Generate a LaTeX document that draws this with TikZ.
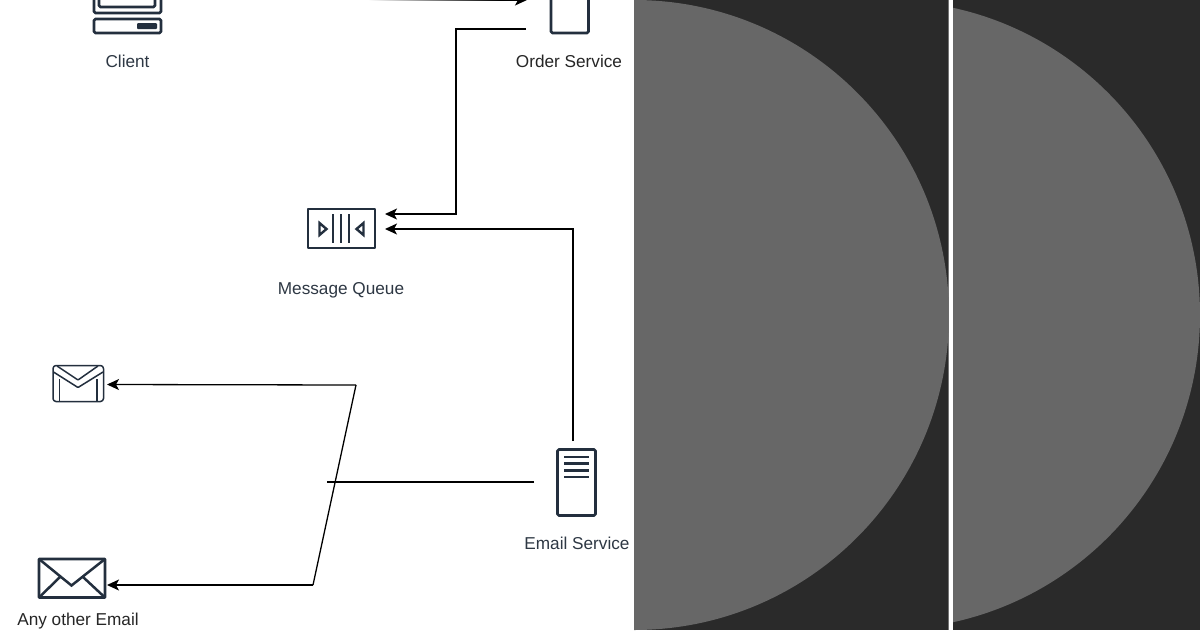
\documentclass[tikz,border=0pt]{standalone}
\usepackage{fontspec}
\setmainfont{Liberation Sans}
\usetikzlibrary{arrows.meta}
\definecolor{icon}{HTML}{232F3E}
\definecolor{paneldark}{HTML}{2A2A2A}
\definecolor{panelgrey}{HTML}{676767}
\definecolor{labelc}{HTML}{2E3844}
\tikzset{
  iconline/.style={draw=icon,line width=2.8pt,rounded corners=1.5pt,line join=round},
  thinicon/.style={draw=icon,line width=1.5pt,rounded corners=0.5pt,line join=round},
  conn/.style={draw=black,line width=1.3pt},
  arrowconn/.style={conn,-{Stealth[length=12pt,width=11pt,inset=3pt]}},
  lab/.style={text=labelc,font=\fontsize{17.2}{20}\selectfont,inner sep=0pt,anchor=center},
  labdark/.style={lab,text=black!85}
}
\begin{document}
\begin{tikzpicture}[x=1pt,y=-1pt]
\useasboundingbox (0,0) rectangle (1200,630);
\clip (0,0) rectangle (1200,630);
\fill[white] (0,0) rectangle (1200,630);
% right panels
\begin{scope}
\clip (634,0) rectangle (948.5,630);
\fill[paneldark] (634,0) rectangle (948.5,630);
\fill[panelgrey] (634,315) circle[radius=315];
\end{scope}
\begin{scope}
\clip (953,0) rectangle (1200,630);
\fill[paneldark] (953,0) rectangle (1200,630);
\fill[panelgrey] (885.5,315) circle[radius=314.5];
\end{scope}
% client icon
\draw[iconline] (94,-20) rectangle (161,13);
\draw[iconline] (99,-20) rectangle (155,7);
\draw[iconline] (94,19) rectangle (161,33);
\fill[icon,rounded corners=1pt] (137,23) rectangle (157,29);
% order icon
\draw[iconline] (551,-30) rectangle (588.5,33);
% queue icon
\draw[iconline,rounded corners=0pt] (308,209) rectangle (375,248);
\foreach \px in {333,341,349}{\draw[icon,line width=2.5pt] (\px,214) -- (\px,243);}
\draw[icon,line width=2.4pt,line join=miter] (319.5,223) -- (319.5,235) -- (326.5,229) -- cycle;
\draw[icon,line width=2.4pt,line join=miter] (363.5,223) -- (363.5,235) -- (356.5,229) -- cycle;
% gmail icon
\draw[thinicon,rounded corners=3pt] (53,365.5) rectangle (103.5,401.5);
\draw[thinicon] (57,366) -- (78,380) -- (98,366);
\draw[thinicon] (53.5,372) -- (78,387.5) -- (103,372);
\draw[thinicon] (59.5,379) -- (59.5,401);
\draw[thinicon] (97,379) -- (97,401);
% envelope icon
\draw[iconline,rounded corners=0.5pt] (39,559) rectangle (105,597.5);
\draw[icon,line width=2.5pt] (39,559) -- (71.5,585.5) -- (105,559);
\draw[icon,line width=2.5pt] (39,597.5) -- (60,577);
\draw[icon,line width=2.5pt] (105,597.5) -- (83,577);
% server icon
\draw[iconline] (557.5,449.5) rectangle (595.5,515.5);
\foreach \py in {457,463.5,470.5,477}{\draw[icon,line width=2.6pt] (564,\py) -- (589,\py);}
% labels
\node[lab] (client) at (127.5,61) {Client};
\node[labdark] (order) at (569,61) {Order Service};
\node[lab] (queue) at (341,290.5) {Message Queue};
\node[lab] (email) at (577,543) {Email Service};
\node[labdark] (other) at (78,621.5) {Any other Email};
% connector anchors
\coordinate (clientOut) at (500,0);
\coordinate (orderIn) at (527,0);
\coordinate (orderOut) at (526,29);
\coordinate (orderBend) at (456,29);
\coordinate (queueInA) at (385,214);
\coordinate (queueInB) at (385,229);
\coordinate (emailUp) at (573,441);
\coordinate (emailLeft) at (534,482);
\coordinate (split) at (327,482);
\coordinate (gmailIn) at (107,384.5);
\coordinate (otherIn) at (107,585);
\coordinate (topBend) at (356,385);
\coordinate (lowBend) at (313,585);
% connectors
\shade[left color=white,right color=black] (368,-0.2) rectangle (500,0.65);
\draw[arrowconn] (clientOut) -- (orderIn);
\draw[arrowconn] (orderOut) -- (orderBend) -- (orderBend |- queueInA) -- (queueInA);
\draw[arrowconn] (emailUp) -- (emailUp |- queueInB) -- (queueInB);
\draw[conn] (emailLeft) -- (split);
\draw[arrowconn] (lowBend) -- (otherIn);
\draw[conn,line join=round] (topBend) -- (lowBend);
\draw[arrowconn] (topBend) -- (gmailIn);
\end{tikzpicture}
\end{document}
